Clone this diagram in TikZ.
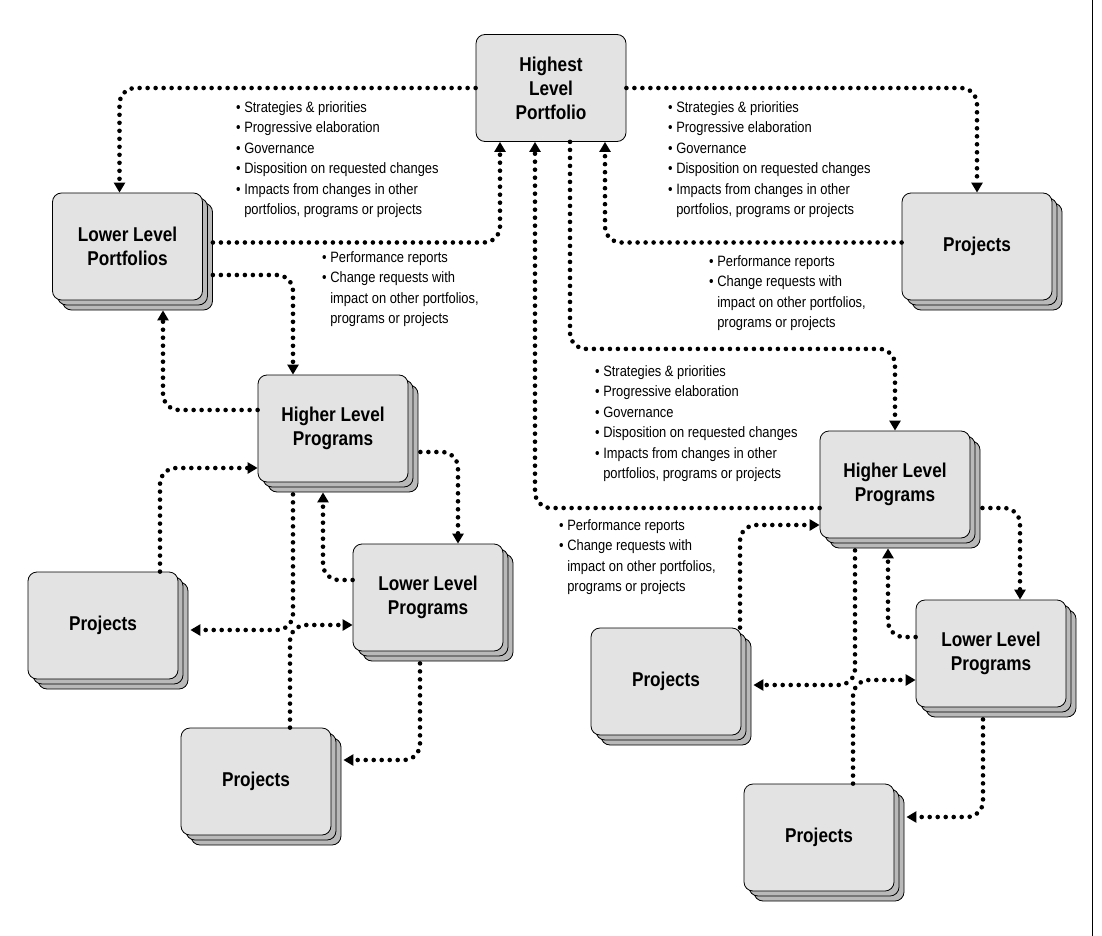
\documentclass[tikz,border=0pt]{standalone}
\usepackage{fontspec}
\setmainfont{Liberation Sans}[FakeStretch=0.86]
\usetikzlibrary{shadows,arrows.meta}

\tikzset{
  BOX/.style={draw=black, thick, fill=gray!22, rounded corners=9pt,
    minimum width=150pt, minimum height=107pt, align=center,
    font=\fontsize{20}{24}\selectfont\bfseries},
  STACK/.style={BOX, double copy shadow={shadow xshift=5pt, shadow yshift=-5pt,
    fill=gray!55, draw=black, thick}},
  conn/.style={line width=4.6pt, dash pattern=on 0pt off 8pt, line cap=round,
    rounded corners=16pt, -{Triangle[length=10pt,width=11pt]}},
  info/.style={anchor=north west, align=left, inner sep=0pt,
    font=\fontsize{15}{20.5}\selectfont}
}
\newcommand{\bl}{\textbullet\ }
\newcommand{\ind}{\phantom{\textbullet\ }}

\begin{document}
\begin{tikzpicture}[x=1pt,y=-1pt]
\useasboundingbox (0,0) rectangle (1102,936);
\draw[thin] (1092,0) -- (1092,936);

% boxes
\node[BOX] (HLP) at (551,88) {Highest\\Level\\Portfolio};
\node[STACK] (LLPf) at (127.5,246.5) {Lower Level\\Portfolios};
\node[STACK] (ProjTR) at (977,246.5) {Projects};
\node[STACK] (HPL) at (333,428.5) {Higher Level\\Programs};
\node[STACK] (LPL) at (428,597.5) {Lower Level\\Programs};
\node[STACK] (ProjL) at (103,625.5) {Projects};
\node[STACK] (ProjBL) at (256,781.5) {Projects};
\node[STACK] (HPR) at (895,484.5) {Higher Level\\Programs};
\node[STACK] (LPR) at (991,653.5) {Lower Level\\Programs};
\node[STACK] (ProjRM) at (666,681.5) {Projects};
\node[STACK] (ProjBR) at (819,837.5) {Projects};

% connectors to and from the highest level
\draw[conn] (HLP.west) -| ([shift={(-8,0)}]LLPf.north);
\draw[conn] (HLP.east) -| (ProjTR.north);
\draw[conn] ([shift={(10,-4)}]LLPf.east) -| ([shift={(-51,0)}]HLP.south);
\draw[conn] ([shift={(0,-4)}]ProjTR.west) -| ([shift={(54,0)}]HLP.south);
\draw[conn] ([shift={(19,0)}]HLP.south) -- ++(0,207) -| (HPR.north);
\draw[conn] ([shift={(0,23.5)}]HPR.west) -| ([shift={(-16,0)}]HLP.south);

% left cluster
\draw[conn] ([shift={(10,28.5)}]LLPf.east) -| ([shift={(-40,0)}]HPL.north);
\draw[conn] ([shift={(0,-18.5)}]HPL.west) -| ([shift={(35.5,10)}]LLPf.south);
\draw[conn] ([shift={(12,23.5)}]HPL.east) -| ([shift={(30,0)}]LPL.north);
\draw[conn] ([shift={(0,-17.5)}]LPL.west) -| ([shift={(-10,10)}]HPL.south);
\draw[conn] ([shift={(57,0)}]ProjL.north) |- ([shift={(0,39.5)}]HPL.west);
\draw[conn] ([shift={(-40,12)}]HPL.south) |- ([shift={(12,4.5)}]ProjL.east);
\draw[conn] ([shift={(34,0)}]ProjBL.north) |- ([shift={(0,27.5)}]LPL.west);
\draw[conn] ([shift={(-8,12)}]LPL.south) |- ([shift={(12,-21.5)}]ProjBL.east);

% right cluster
\draw[conn] ([shift={(12,23.5)}]HPR.east) -| ([shift={(29,0)}]LPR.north);
\draw[conn] ([shift={(0,-16.5)}]LPR.west) -| ([shift={(-7,10)}]HPR.south);
\draw[conn] ([shift={(74,0)}]ProjRM.north) |- ([shift={(0,40.5)}]HPR.west);
\draw[conn] ([shift={(-40,12)}]HPR.south) |- ([shift={(12,3.5)}]ProjRM.east);
\draw[conn] ([shift={(34,0)}]ProjBR.north) |- ([shift={(0,26.5)}]LPR.west);
\draw[conn] ([shift={(-8,12)}]LPR.south) |- ([shift={(12,-20.5)}]ProjBR.east);

% texts
\node[info] (downL) at (236,101) {\bl Strategies \& priorities\\\bl Progressive elaboration\\\bl Governance\\\bl Disposition on requested changes\\\bl Impacts from changes in other\\\ind portfolios, programs or projects};
\node[info] (downR) at (668,101) {\bl Strategies \& priorities\\\bl Progressive elaboration\\\bl Governance\\\bl Disposition on requested changes\\\bl Impacts from changes in other\\\ind portfolios, programs or projects};
\node[info] (downM) at (595,365) {\bl Strategies \& priorities\\\bl Progressive elaboration\\\bl Governance\\\bl Disposition on requested changes\\\bl Impacts from changes in other\\\ind portfolios, programs or projects};
\node[info] (upL) at (322,251) {\bl Performance reports\\\bl Change requests with\\\ind impact on other portfolios,\\\ind programs or projects};
\node[info] (upR) at (709,255) {\bl Performance reports\\\bl Change requests with\\\ind impact on other portfolios,\\\ind programs or projects};
\node[info] (upM) at (559,519) {\bl Performance reports\\\bl Change requests with\\\ind impact on other portfolios,\\\ind programs or projects};
\end{tikzpicture}
\end{document}
